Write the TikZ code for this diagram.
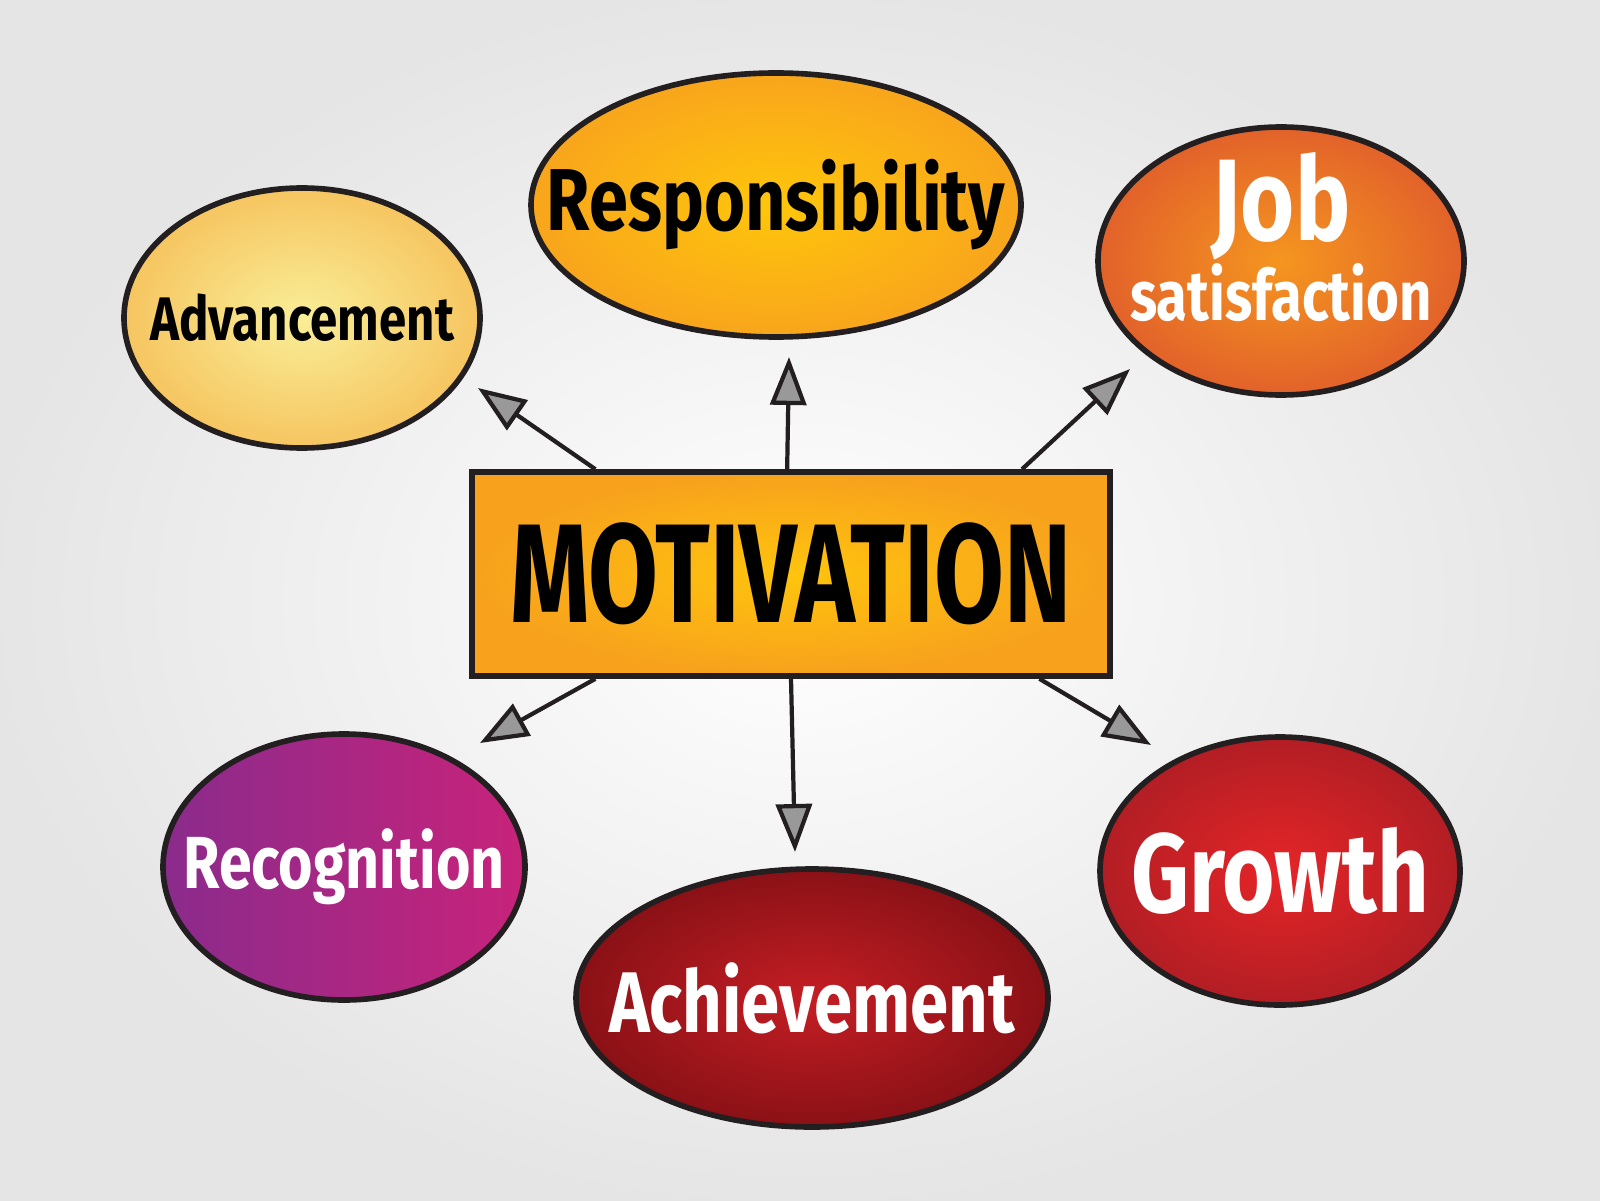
\documentclass[tikz,border=0pt]{standalone}
\usepackage{graphicx}
\usepackage{fontspec}
\setmainfont{Fira Sans}
\usepackage{tikz}
\usetikzlibrary{calc}
\usetikzlibrary{positioning}
\usetikzlibrary{shapes}
\usetikzlibrary{arrows.meta}

\definecolor{outline}{HTML}{231F20}
\definecolor{advIn}{HTML}{F9EE98}
\definecolor{advOut}{HTML}{F6C560}
\definecolor{respIn}{HTML}{FFC60B}
\definecolor{respOut}{HTML}{F8A51C}
\definecolor{jobIn}{HTML}{F5961F}
\definecolor{jobOut}{HTML}{E2622A}
\definecolor{recL}{HTML}{8A2B8C}
\definecolor{recR}{HTML}{C8237A}
\definecolor{achIn}{HTML}{C41E24}
\definecolor{achOut}{HTML}{8A1116}
\definecolor{groIn}{HTML}{E52528}
\definecolor{groOut}{HTML}{B21E24}
\definecolor{motIn}{HTML}{FFC40D}
\definecolor{motOut}{HTML}{F7A11D}

% hand lettering: narrow, bold, no width of its own
\newcommand{\hand}[3][0.8]{\makebox[0pt]{\scalebox{#1}[1]{\bfseries\fontsize{#2}{#2}\selectfont #3}}}

\tikzset{
  bubble/.style={ellipse, draw=outline, line width=1.6pt, inner sep=0pt, align=center},
  spoke/.style={draw=outline, line width=1.2pt, -{Triangle[length=4.8mm, width=3.6mm, line width=1.2pt, fill=black!40]}},
}

\begin{document}
\begin{tikzpicture}
				\shade[inner color=white, outer color=black!10] (0,0) rectangle (16,12);
				\useasboundingbox (0,0) rectangle (16,12);

				\node[draw=outline, line width=1.6pt, shading=radial, inner color=motIn, outer color=motOut, minimum width=6.38cm, minimum height=2.04cm] (mot) at (7.91,6.26) {\hand[0.72]{40}{MOTIVATION}};

				\node[bubble, shading=radial, inner color=advIn, outer color=advOut, minimum width=3.56cm, minimum height=2.60cm] (adv) at (3.02,8.82) {\hand{17.5}{Advancement}};
				\node[bubble, shading=radial, inner color=respIn, outer color=respOut, minimum width=4.90cm, minimum height=2.64cm] (resp) at (7.76,9.95) {\hand{25}{Responsibility}};
				\node[bubble, shading=radial, inner color=jobIn, outer color=jobOut, minimum width=3.66cm, minimum height=2.68cm, text=white] (job) at (12.81,9.39) {\raisebox{-0.6cm}[0pt][0pt]{\shortstack{\hand{33}{Job}\\[-2pt]\hand{20}{satisfaction}}}};
				\node[bubble, left color=recL, right color=recR, minimum width=3.62cm, minimum height=2.66cm, text=white] (rec) at (3.44,3.33) {\hand{21}{Recognition}};
				\node[bubble, shading=radial, inner color=achIn, outer color=achOut, minimum width=4.72cm, minimum height=2.58cm, text=white] (ach) at (8.12,2.02) {\hand{24.5}{Achievement}};
				\node[bubble, shading=radial, inner color=groIn, outer color=groOut, minimum width=3.60cm, minimum height=2.68cm, text=white] (gro) at (12.80,3.29) {\hand{32}{Growth}};

				% free ends of the spokes
				\coordinate (tadv) at (4.78,8.12);
				\coordinate (tresp) at (7.89,8.43);
				\coordinate (tjob) at (11.30,8.31);
				\coordinate (trec) at (4.80,4.57);
				\coordinate (tach) at (7.95,3.48);
				\coordinate (tgro) at (11.51,4.55);

				\draw[spoke] ($(mot.north west)!0.196!(mot.north east)$) -- (tadv);
				\draw[spoke] ($(mot.north west)!0.494!(mot.north east)$) -- (tresp);
				\draw[spoke] ($(mot.north west)!0.859!(mot.north east)$) -- (tjob);
				\draw[spoke] ($(mot.south west)!0.196!(mot.south east)$) -- (trec);
				\draw[spoke] ($(mot.south west)!0.500!(mot.south east)$) -- (tach);
				\draw[spoke] ($(mot.south west)!0.886!(mot.south east)$) -- (tgro);
			\end{tikzpicture}
\end{document}
